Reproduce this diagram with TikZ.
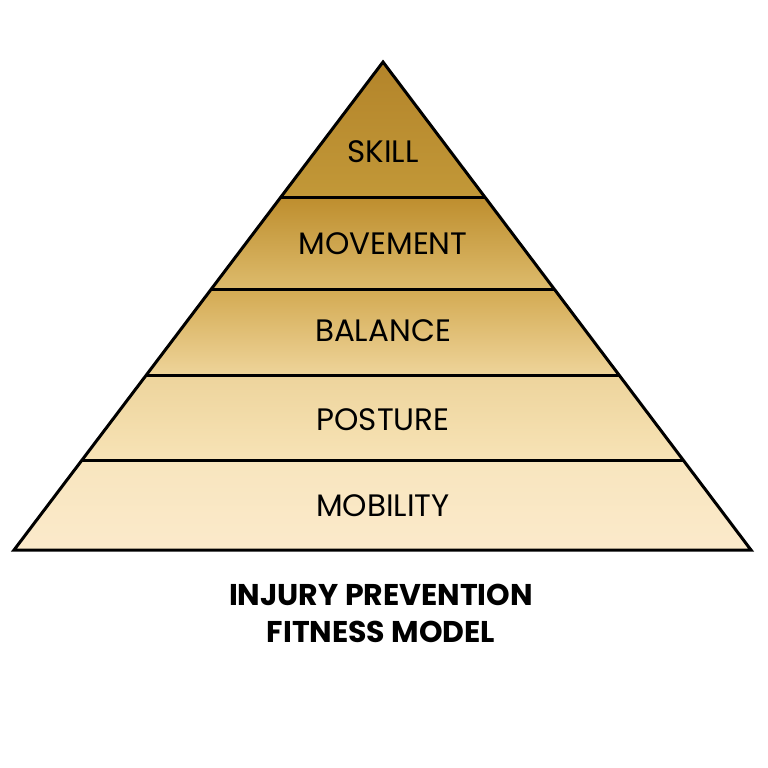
\documentclass[tikz,border=0pt]{standalone}
\usepackage{fontspec}
\setmainfont{Poppins}
\usetikzlibrary{positioning}
\definecolor{skillA}{HTML}{B3842A}
\definecolor{skillB}{HTML}{C29838}
\definecolor{moveA}{HTML}{BE8E2E}
\definecolor{moveB}{HTML}{DDBB6C}
\definecolor{balA}{HTML}{D3AA52}
\definecolor{balB}{HTML}{EED49A}
\definecolor{posA}{HTML}{EDD49C}
\definecolor{posB}{HTML}{F7E3B6}
\definecolor{mobA}{HTML}{F8E5BE}
\definecolor{mobB}{HTML}{FBEACB}
\tikzset{
  band/.style={font=\fontsize{31}{31}\selectfont},
  title/.style={font=\fontseries{sb}\fontsize{30}{37}\selectfont, align=center}
  }

\begin{document}
\begin{tikzpicture}[x=1pt,y=-1pt]
	% Frame
	\useasboundingbox (0,0) rectangle (768,768);

	% Bands
	\begin{scope}
		\clip (383,62) -- (751,550) -- (14,550) -- cycle;
		\shade[top color=skillA, bottom color=skillB] (0,60) rectangle (768,197);
		\shade[top color=moveA, bottom color=moveB] (0,197) rectangle (768,289);
		\shade[top color=balA, bottom color=balB] (0,289) rectangle (768,375);
		\shade[top color=posA, bottom color=posB] (0,375) rectangle (768,460);
		\shade[top color=mobA, bottom color=mobB] (0,460) rectangle (768,550);
		\draw[line width=3pt] (0,197) -- (768,197) (0,289) -- (768,289)
			(0,375) -- (768,375) (0,460) -- (768,460);
	\end{scope}
	\draw[line width=3pt, line join=miter] (383,62) -- (751,550) -- (14,550) -- cycle;

	% Nodes
	\node[band] (skill) at (383,152) {SKILL};
	\node[band] (movement) at (383,244) {MOVEMENT};
	\node[band] (balance) at (383,331) {BALANCE};
	\node[band] (posture) at (383,420) {POSTURE};
	\node[band] (mobility) at (383,506) {MOBILITY};
	\node[title] (model) at (381,613) {INJURY PREVENTION\\FITNESS MODEL};
\end{tikzpicture}
\end{document}
